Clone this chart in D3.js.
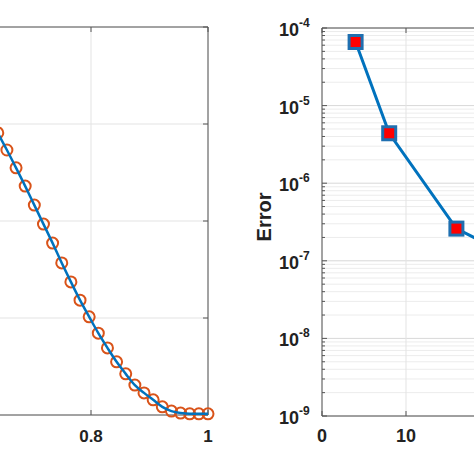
<!DOCTYPE html>
<html><head><meta charset="utf-8">
<script src="https://cdn.jsdelivr.net/npm/d3@7"></script>
<style>body{margin:0;background:#fff}text{font-family:"Liberation Sans",Arial,sans-serif;font-weight:bold}</style>
</head><body><svg width="474" height="474"></svg>
<script>
// left panel: solution curve, sampled points
const solX = d3.range(24).map(i => 1 - (23 - i) / 64);
const solY = [0.727,0.683,0.637,0.590,0.541,0.492,0.443,0.392,0.343,0.296,0.253,0.211,
  0.173,0.137,0.106,0.077,0.057,0.039,0.021,0.010,0.005,0.003,0.003,0.003];
const leftXTicks = [0.8, 1];
const leftYTicks = [0, 0.25, 0.5, 0.75, 1];

// right panel: error vs N
const nVals = [4, 8, 16, 32];
const errVals = [6.6e-5, 4.4e-6, 2.6e-7, 3.5e-8];
const rightXTicks = [0, 10];
const rightYTicks = [1e-9, 1e-8, 1e-7, 1e-6, 1e-5, 1e-4];

const svg = d3.select("svg");
const blue = "#0072BD", orange = "#D95319", grid = "#e3e3e3", axisC = "#555";

// ---- left
const xL = d3.scaleLinear().domain([0.8, 1]).range([91, 208]);
const yL = d3.scaleLinear().domain([0, 1]).range([415, 27]);
const gL = svg.append("g");
gL.append("clipPath").attr("id", "cl").append("rect").attr("x", 0).attr("y", 20).attr("width", 215).attr("height", 410);
gL.selectAll(".vg").data(leftXTicks).join("line").attr("x1", xL).attr("x2", xL)
  .attr("y1", 27).attr("y2", 415).attr("stroke", grid);
gL.selectAll(".hg").data(leftYTicks).join("line").attr("x1", 0).attr("x2", 208)
  .attr("y1", yL).attr("y2", yL).attr("stroke", grid);
gL.append("path").attr("d", "M0,27H208V415H0").attr("fill", "none").attr("stroke", axisC);
gL.selectAll(".yt").data(leftYTicks).join("line").attr("x1", 203).attr("x2", 208)
  .attr("y1", yL).attr("y2", yL).attr("stroke", axisC);
gL.selectAll(".xt").data(leftXTicks).join("line").attr("x1", xL).attr("x2", xL)
  .attr("y1", 27).attr("y2", 32).attr("stroke", axisC);
gL.selectAll(".xt2").data(leftXTicks).join("line").attr("x1", xL).attr("x2", xL)
  .attr("y1", 410).attr("y2", 415).attr("stroke", axisC);
gL.selectAll(".xl").data(leftXTicks).join("text").attr("x", xL).attr("y", 442)
  .attr("text-anchor", "middle").attr("font-size", 17).attr("fill", "#222").text(d => d);
const ptsL = solX.map((x, i) => [x, solY[i]]);
const plot = gL.append("g").attr("clip-path", "url(#cl)");
plot.selectAll("circle").data(ptsL).join("circle").attr("cx", d => xL(d[0])).attr("cy", d => yL(d[1]))
  .attr("r", 5.5).attr("fill", "none").attr("stroke", orange).attr("stroke-width", 2);
plot.append("path").datum(ptsL).attr("fill", "none").attr("stroke", blue).attr("stroke-width", 2.5)
  .attr("d", d3.line().x(d => xL(d[0])).y(d => yL(d[1])).curve(d3.curveMonotoneX));

// ---- right
const xR = d3.scaleLinear().domain([0, 10]).range([322, 406]);
const yR = d3.scaleLog().domain([1e-9, 1e-4]).range([416, 28]);
const gR = svg.append("g");
const minor = [];
for (let e = -9; e < -4; e++) for (let m = 2; m <= 9; m++) minor.push(m * Math.pow(10, e));
gR.selectAll(".mg").data(minor).join("line").attr("x1", 322).attr("x2", 474)
  .attr("y1", yR).attr("y2", yR).attr("stroke", "#ececec");
gR.selectAll(".hg").data(rightYTicks).join("line").attr("x1", 322).attr("x2", 474)
  .attr("y1", yR).attr("y2", yR).attr("stroke", "#d8d8d8");
gR.selectAll(".vg").data(rightXTicks).join("line").attr("x1", xR).attr("x2", xR)
  .attr("y1", 28).attr("y2", 416).attr("stroke", grid);
gR.append("path").attr("d", "M474,28H322V416H474").attr("fill", "none").attr("stroke", axisC);
gR.selectAll(".yt").data(rightYTicks).join("line").attr("x1", 322).attr("x2", 327)
  .attr("y1", yR).attr("y2", yR).attr("stroke", axisC);
gR.selectAll(".ymt").data(minor).join("line").attr("x1", 322).attr("x2", 325)
  .attr("y1", yR).attr("y2", yR).attr("stroke", axisC);
gR.selectAll(".xt").data(rightXTicks).join("line").attr("x1", xR).attr("x2", xR)
  .attr("y1", 411).attr("y2", 416).attr("stroke", axisC);
gR.selectAll(".xt2").data(rightXTicks).join("line").attr("x1", xR).attr("x2", xR)
  .attr("y1", 28).attr("y2", 33).attr("stroke", axisC);
gR.selectAll(".xl").data(rightXTicks).join("text").attr("x", xR).attr("y", 442)
  .attr("text-anchor", "middle").attr("font-size", 18).attr("fill", "#222").text(d => d);
const yl = gR.selectAll(".yl").data(rightYTicks).join("text").attr("x", 279).attr("y", d => yR(d) + 8)
  .attr("font-size", 18).attr("fill", "#222");
yl.append("tspan").text("10");
yl.append("tspan").attr("dy", -9).attr("font-size", 12).text(d => Math.round(Math.log10(d)));
gR.append("text").attr("transform", "translate(271,217) rotate(-90)").attr("text-anchor", "middle")
  .attr("font-size", 20).attr("fill", "#222").text("Error");
const ptsR = nVals.map((n, i) => [n, errVals[i]]);
gR.append("path").datum(ptsR).attr("fill", "none").attr("stroke", blue).attr("stroke-width", 3)
  .attr("d", d3.line().x(d => xR(d[0])).y(d => yR(d[1])));
gR.selectAll(".mk").data(ptsR).join("rect").attr("x", d => xR(d[0]) - 6.5).attr("y", d => yR(d[1]) - 6.5)
  .attr("width", 13).attr("height", 13).attr("fill", "#f00").attr("stroke", "#1f6fb0").attr("stroke-width", 3);
</script></body></html>
